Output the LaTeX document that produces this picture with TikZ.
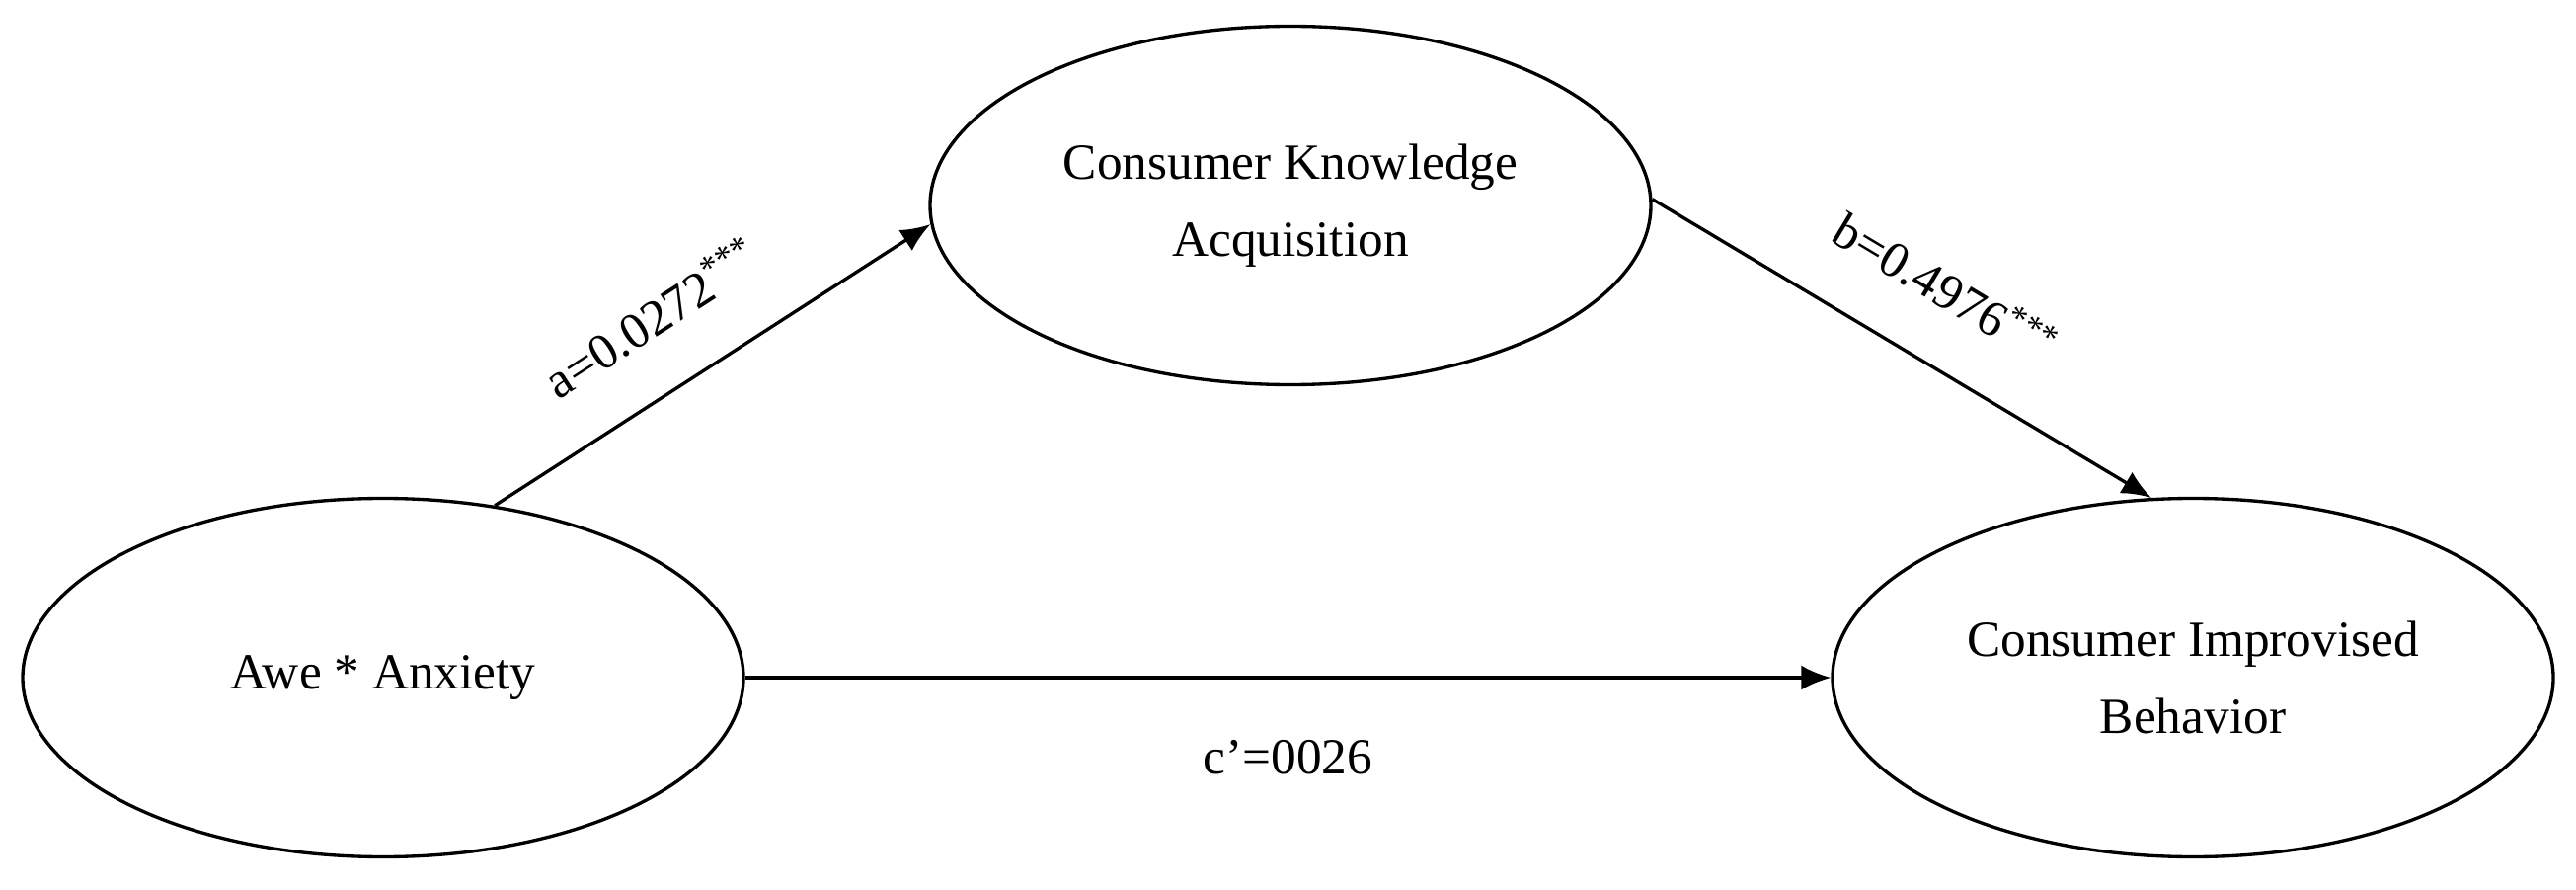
\documentclass[tikz,border=0pt]{standalone}
\usepackage{fontspec}
\setmainfont{Liberation Serif}
\usepackage{tikz}
\usetikzlibrary{arrows.meta, shapes.geometric}

\begin{document}
\begin{tikzpicture}[
		var/.style={draw, ellipse, line width=0.95pt, minimum width=7.3cm, minimum height=3.63cm, align=center, font=\fontsize{14.6}{22.2}\selectfont},
		arr/.style={-{Latex[length=3mm, width=2.5mm]}, line width=0.95pt},
		lbl/.style={font=\fontsize{14.6}{17}\selectfont}]
			\useasboundingbox (0,0) rectangle (26.09,9);
			\node[var] (aa) at (3.88,2.14) {Awe * Anxiety};
			\node[var] (cka) at (13.07,6.92) {Consumer Knowledge\\Acquisition};
			\node[var] (cib) at (22.21,2.14) {Consumer Improvised\\Behavior};
			\draw[arr] (aa.57) -- (cka.183) node[lbl, pos=0.45, sloped, above=0.4cm] {a=0.0272\textsuperscript{***}};
			\draw[arr] (cka.1) -- (cib.103) node[lbl, pos=0.51, sloped, above=0.42cm] {b=0.4976\textsuperscript{***}};
			\draw[arr] (aa.east) -- (cib.west) node[lbl, midway, below=0.5cm] {c’=0026};
		\end{tikzpicture}
\end{document}
